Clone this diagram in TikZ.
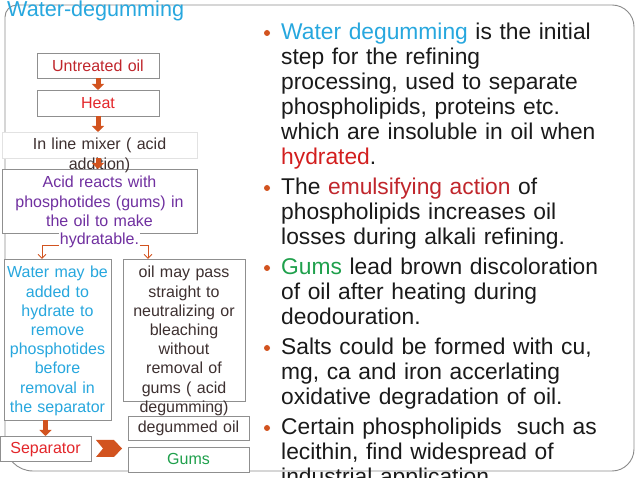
\documentclass[tikz,border=0pt]{standalone}
\usepackage{fontspec}
\setmainfont{Liberation Sans}
\usetikzlibrary{arrows.meta}

\definecolor{framegray}{HTML}{8A8A8A}
\definecolor{boxgray}{HTML}{8F8F8F}
\definecolor{mixgray}{HTML}{E2E2E2}
\definecolor{orangebrown}{HTML}{D2531F}
\definecolor{titlecyan}{HTML}{27A7DE}
\definecolor{untreatedred}{HTML}{C0262C}
\definecolor{heatred}{HTML}{E3262A}
\definecolor{acidpurple}{HTML}{7030A0}
\definecolor{gumgreen}{HTML}{1FA04C}
\definecolor{hydred}{HTML}{D21E1E}
\definecolor{emulred}{HTML}{C0262C}
\definecolor{bodytext}{HTML}{1A1A1A}
\definecolor{flowtext}{HTML}{3D3030}

\tikzset{
	flowbox/.style={draw=boxgray,fill=white,line width=0.8pt,inner sep=0,outer sep=0},
	flowtxt/.style={anchor=base,text width=#1,align=center,inner sep=0,font=\fontsize{16}{19.2}\selectfont},
	blockarrow/.style={orangebrown,line width=5pt,-{Triangle[width=12pt,length=6pt]}},
	splitarrow/.style={orangebrown,line width=0.9pt,-{Straight Barb[length=4pt,width=8pt]}},
	bullettxt/.style={anchor=base west,text width=360pt,align=left,inner sep=0,text=bodytext,font=\fontsize{22.8}{25}\selectfont},
	bulletdot/.style={circle,fill=orangebrown,inner sep=0,minimum size=6pt}
}

\begin{document}
\begin{tikzpicture}[x=1pt,y=-1pt]
	\useasboundingbox (0,0) rectangle (638,478);
	\clip (0,0) rectangle (638,478);
	\draw[framegray,line width=0.9pt] (320,5) [rounded corners=22pt] -| (634,240) |- (320,471) [rounded corners=28pt] -| (5,240) [rounded corners=12pt] |- (320,5);
	\node[anchor=base west,inner sep=0,text=titlecyan,font=\fontsize{21.6}{24}\selectfont] (title) at (7,16.7) {Water-degumming};

	\node[flowbox,minimum width=122pt,minimum height=25pt] (untreated) at (98,65.5) {};
	\node[flowbox,minimum width=122pt,minimum height=26pt] (heat) at (98,103) {};
	\node[flowbox,draw=mixgray,minimum width=195pt,minimum height=26pt] (mixer) at (99.5,145) {};
	\node[flowbox,minimum width=195pt,minimum height=64pt] (acid) at (99.5,201) {};
	\node[flowbox,minimum width=107pt,minimum height=161pt] (water) at (57.5,339.5) {};
	\node[flowbox,minimum width=122pt,minimum height=142pt] (pass) at (184,330) {};
	\node[flowbox,minimum width=121pt,minimum height=24pt] (degummed) at (188.5,428) {};
	\node[flowbox,minimum width=121pt,minimum height=25pt] (gums) at (188.5,459.5) {};
	\node[flowbox,minimum width=91pt,minimum height=25pt] (separator) at (45.5,448.5) {};

	\draw[orangebrown,line width=0.9pt] (acid.south) -- ++(0,12) coordinate (split);
	\draw[splitarrow] (split) -| ([xshift=-15.5pt]water.north);
	\draw[splitarrow] (split) -| ([xshift=-36pt]pass.north);

	\node[flowtxt=122pt,text=untreatedred] (untreatedtxt) at (98,72) {Untreated oil};
	\node[flowtxt=122pt,text=heatred] (heattxt) at (98,109) {Heat};
	\node[flowtxt=195pt,text=flowtext] (mixertxt) at (99.5,150) {In line mixer ( acid\\addition)};
	\node[flowtxt=195pt,text=acidpurple] (acidtxt) at (99.5,188) {Acid reacts with\\phosphotides (gums) in\\the oil to make};
	\node[anchor=base,inner ysep=0,inner xsep=1pt,fill=white,text=acidpurple,font=\fontsize{16}{19.2}\selectfont] (hydtxt) at (99.5,245) {hydratable.};
	\node[flowtxt=107pt,text=titlecyan] (watertxt) at (57.5,278) {Water may be\\added to\\hydrate to\\remove\\phosphotides\\before\\removal in\\the separator};
	\node[flowtxt=122pt,text=flowtext] (passtxt) at (184,278) {oil may pass\\straight  to\\neutralizing or\\bleaching\\without\\removal of\\gums ( acid\\degumming)};
	\node[flowtxt=121pt,text=flowtext] (degummedtxt) at (188.5,433) {degummed oil};
	\node[flowtxt=121pt,text=gumgreen] (gumstxt) at (188.5,465) {Gums};
	\node[flowtxt=91pt,text=heatred] (separatortxt) at (45.5,454) {Separator};

	\draw[blockarrow] (untreated.south) -- (heat.north);
	\draw[blockarrow] (heat.south) -- (mixer.north -| heat.south);
	\draw[blockarrow] (mixer.south -| heat.south) -- (acid.north -| heat.south);
	\draw[blockarrow] (separator.north |- water.south) -- (separator.north);
	\fill[orangebrown] (96,440) -- (114,440) -- (122,448.5) -- (114,457) -- (96,457) -- (103,448.5) -- cycle;

	\node[bulletdot] (dot1) at (267,33) {};
	\node[bulletdot] (dot2) at (267,188) {};
	\node[bulletdot] (dot3) at (267,268) {};
	\node[bulletdot] (dot4) at (267,348) {};
	\node[bulletdot] (dot5) at (267,428) {};
	\node[bullettxt] (point1) at (281,40) {{\color{titlecyan}Water degumming} is the initial\\step for the refining\\processing, used to separate\\phospholipids, proteins etc.\\which are insoluble in oil when\\{\color{hydred}hydrated}.};
	\node[bullettxt] (point2) at (281,195) {The {\color{emulred}emulsifying action} of\\phospholipids increases oil\\losses during alkali refining.};
	\node[bullettxt] (point3) at (281,275) {{\color{gumgreen}Gums} lead brown discoloration\\of oil after heating during\\deodouration.};
	\node[bullettxt] (point4) at (281,355) {Salts could be formed with cu,\\mg, ca and iron accerlating\\oxidative degradation of oil.};
	\node[bullettxt] (point5) at (281,435) {Certain phospholipids\ \ such as\\lecithin, find widespread of\\industrial application.};
\end{tikzpicture}
\end{document}
